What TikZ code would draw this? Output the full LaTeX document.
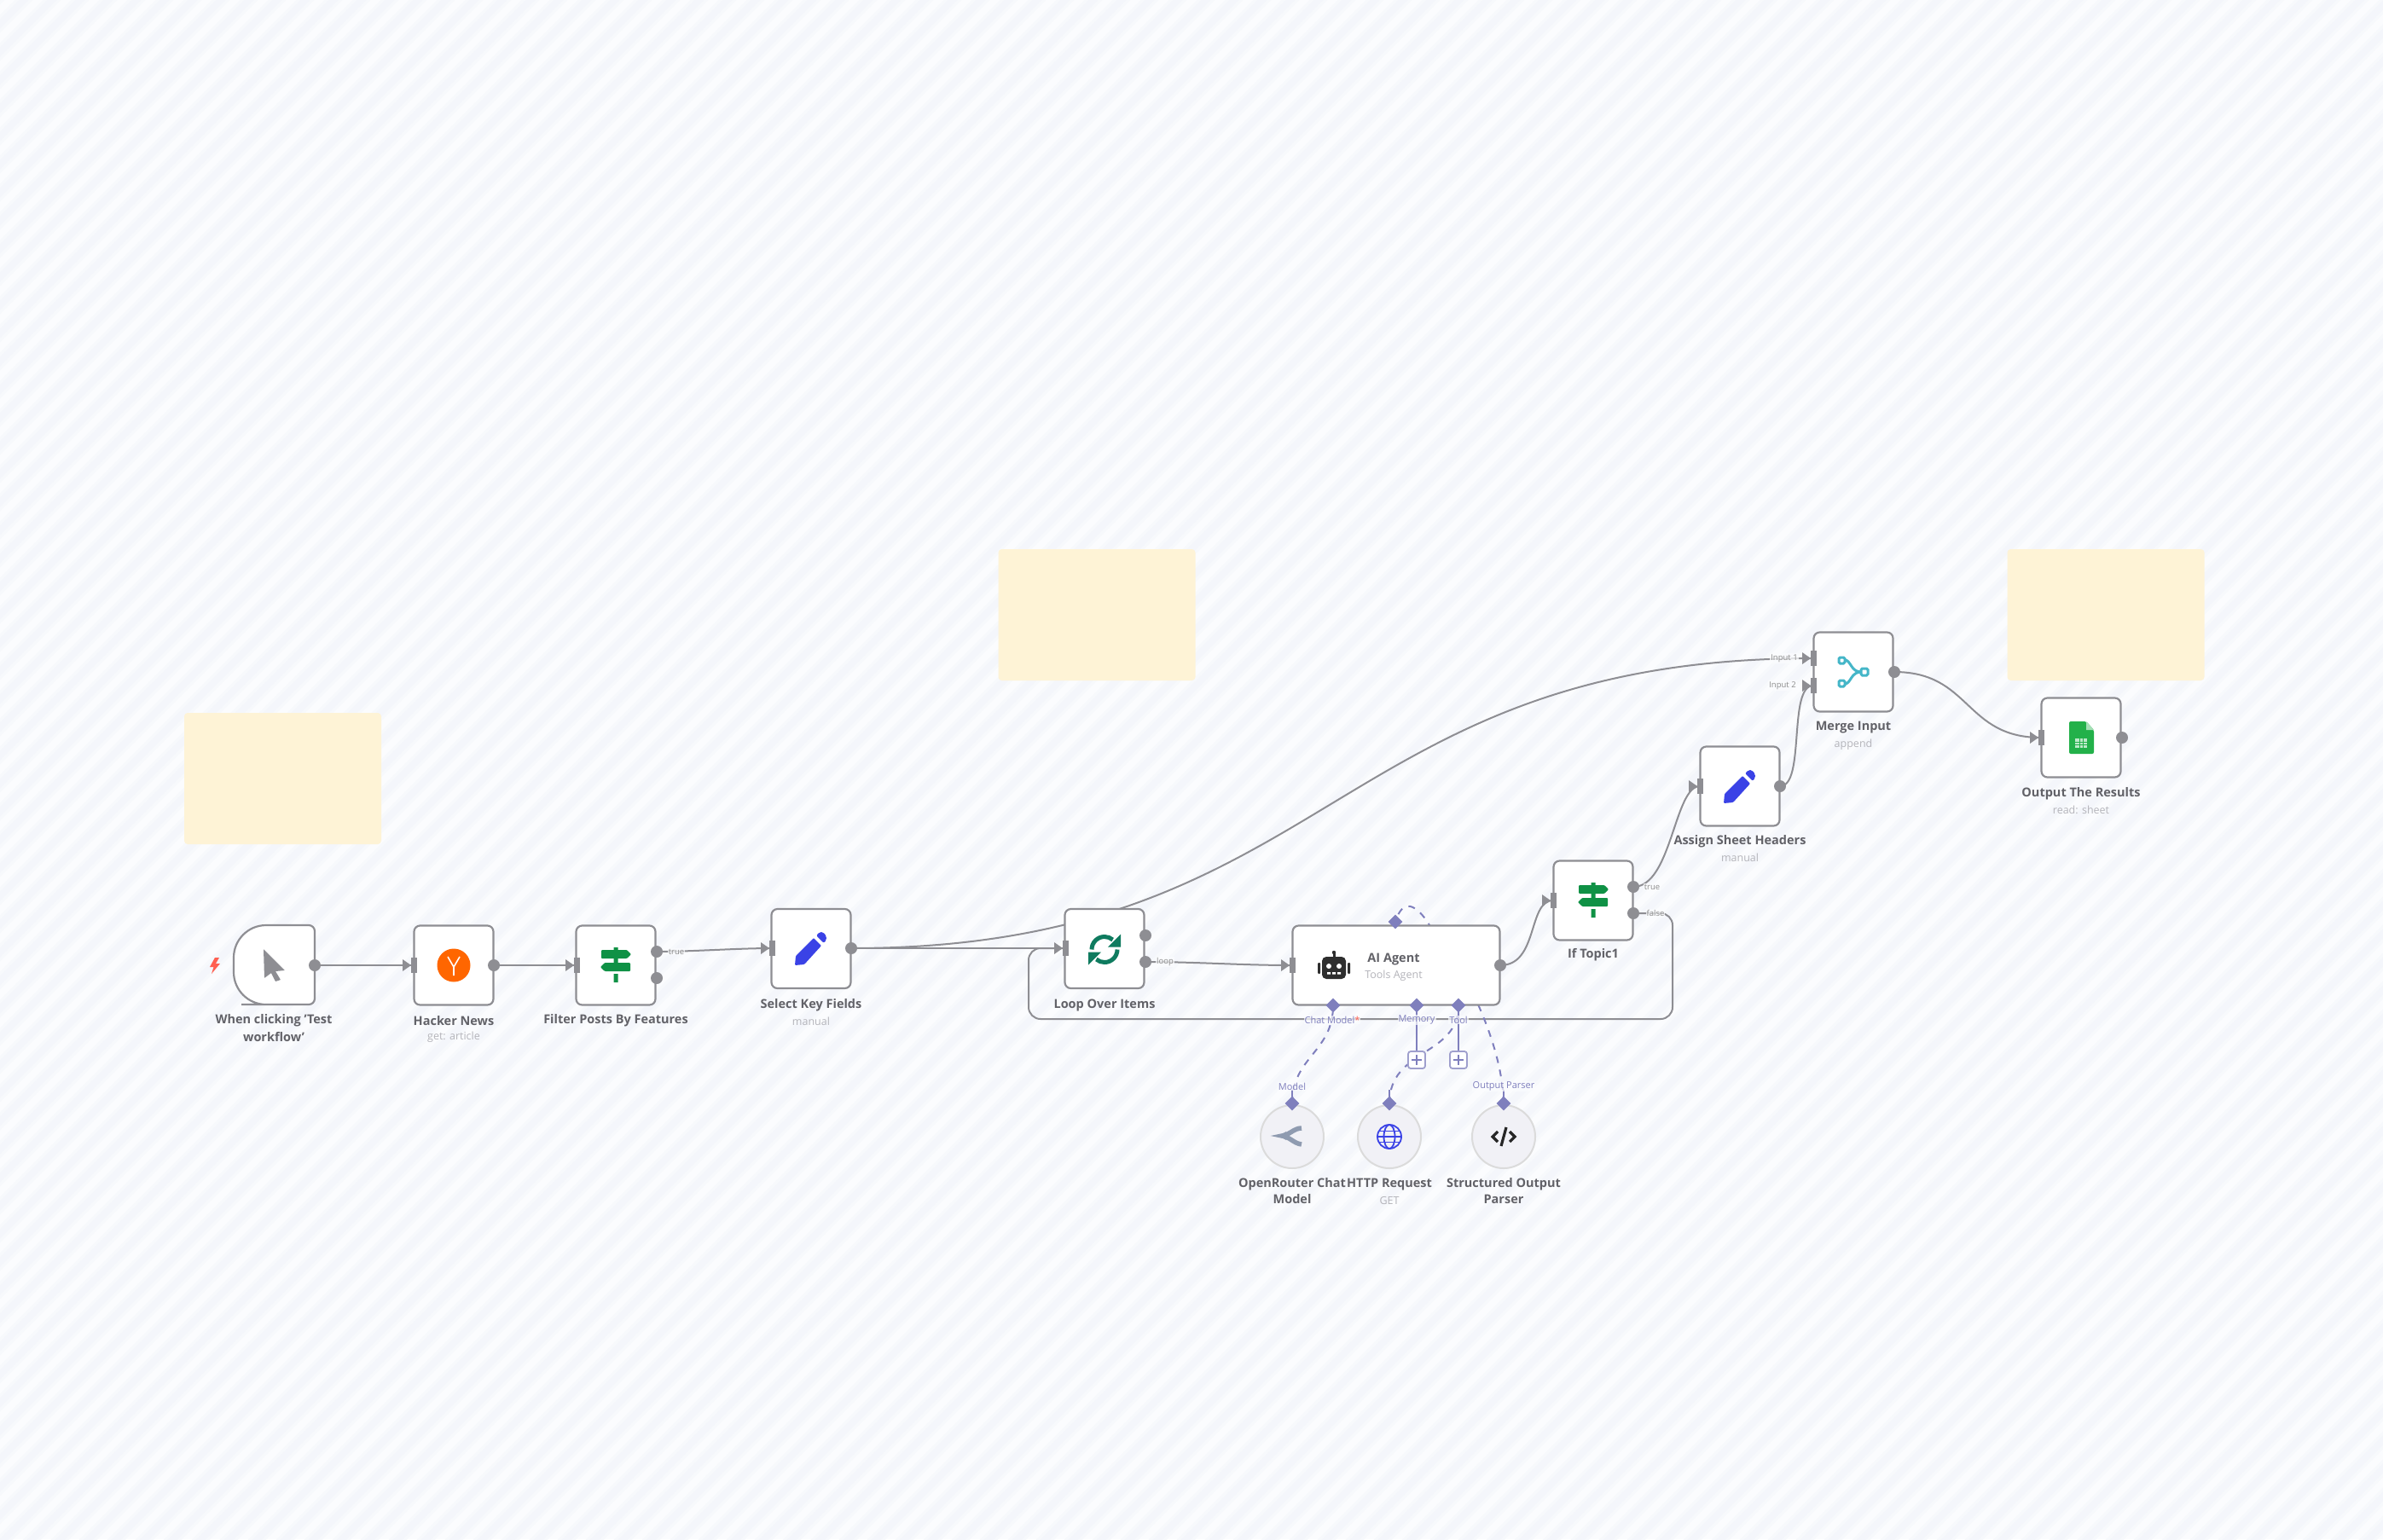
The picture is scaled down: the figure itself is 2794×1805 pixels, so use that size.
\documentclass[tikz,border=0pt]{standalone}
\usepackage{fontspec}
\setmainfont{Open Sans}
\usetikzlibrary{shapes.geometric,calc}
\pgfdeclarelayer{paper}
\pgfdeclarelayer{edges}
\pgfsetlayers{paper,edges,main}
\definecolor{bgbase}{HTML}{FBFCFE}
\definecolor{bgstripe}{HTML}{F4F6FB}
\definecolor{bgmid}{HTML}{F7F9FC}
\definecolor{sticky}{HTML}{FEF3D6}
\definecolor{edgegray}{HTML}{8E8E93}
\definecolor{aiblue}{HTML}{7F7FBD}
\definecolor{labeltext}{HTML}{626268}
\definecolor{subtext}{HTML}{B4B4BA}
\definecolor{penblue}{HTML}{3A42E6}
\definecolor{signgreen}{HTML}{0F9145}
\definecolor{loopgreen}{HTML}{0F7B5F}
\definecolor{mergeteal}{HTML}{45B6C8}
\definecolor{routergray}{HTML}{8F9BB0}
\definecolor{sheetgreen}{HTML}{23B14A}
\definecolor{ycolor}{HTML}{FF6600}
\definecolor{boltred}{HTML}{FF5F50}
\definecolor{circlefill}{HTML}{F1F1F6}
\tikzset{
  box/.style={draw=edgegray,fill=white,line width=2.2pt,rounded corners=7pt,minimum width=93pt,minimum height=93pt,inner sep=0pt},
  agentbox/.style={box,minimum width=243pt},
  subcircle/.style={circle,draw=black!14,fill=circlefill,line width=2pt,minimum size=74pt,inner sep=0pt},
  stickybox/.style={fill=sticky,rounded corners=4pt,minimum width=231pt,minimum height=154pt,inner sep=0pt},
  outdot/.style={circle,fill=edgegray,minimum size=14pt,inner sep=0pt},
  inbar/.style={rectangle,fill=edgegray,minimum width=7pt,minimum height=18pt,inner sep=0pt},
  aidia/.style={diamond,aspect=1,fill=aiblue,minimum size=17pt,inner sep=0pt},
  plusbox/.style={draw=aiblue!75,fill=white,line width=1.8pt,rounded corners=3pt,minimum size=20pt,inner sep=0pt},
  title/.style={font=\fontsize{14.5}{16}\selectfont\bfseries,text=labeltext,inner sep=0pt},
  subt/.style={font=\fontsize{12.5}{14}\selectfont,text=subtext,inner sep=0pt},
  tiny/.style={font=\fontsize{9.5}{10}\selectfont,text=black!45,inner sep=1pt,fill=bgbase,fill opacity=.75,text opacity=1},
  ailab/.style={font=\fontsize{11}{12}\selectfont,text=aiblue,inner sep=1pt,fill=bgbase,fill opacity=.7,text opacity=1},
  wire/.style={draw=edgegray,line width=2pt},
  aiwire/.style={draw=aiblue,line width=2pt,dash pattern=on 8pt off 8pt},
  aisolid/.style={draw=aiblue,line width=2pt}
}
\newcommand{\inport}[3]{\node[inbar] (#1) at (#2,#3) {}; \fill[edgegray] ($(#1.center)+(-3,0)$) -- ++(-10,-7) -- ++(0,14) -- cycle;}
\newcommand{\signicon}[2]{\begin{scope}[shift={(#1,#2)}]
  \fill[signgreen,rounded corners=1pt] (-17,-18) -- (13,-18) -- (18,-13) -- (13,-8) -- (-17,-8) -- cycle;
  \fill[signgreen,rounded corners=1pt] (-13,-3) -- (17,-3) -- (17,7) -- (-13,7) -- (-18,2) -- cycle;
  \fill[signgreen] (-2.5,-21) rectangle (2.5,-18) (-2.5,-8) rectangle (2.5,-3) (-2.5,10) rectangle (2.5,20);
\end{scope}}
\newcommand{\penicon}[2]{\begin{scope}[shift={(#1,#2)}]
  \fill[penblue,rounded corners=1pt] (-19,20) -- (-18,9) -- (3,-12) -- (12,-3) -- (-8,19) -- cycle;
  \fill[penblue,rounded corners=2pt] (6,-15) -- (10,-19) -- (14,-19) -- (18,-14) -- (18,-10) -- (15,-6) -- cycle;
\end{scope}}
\begin{document}
\begin{tikzpicture}[x=1pt,y=-1pt]
\useasboundingbox (0,0) rectangle (2794,1805);
\begin{pgfonlayer}{paper}
  \fill[bgbase] (0,0) rectangle (2794,1805);
  \begin{scope}
    \clip (0,0) rectangle (2794,1805);
    \foreach \s in {-1820,-1787,...,2800} {
      \draw[bgmid,line width=15pt] (\s,1815) -- (\s+1825,-10);
      \draw[bgstripe,line width=8pt] (\s,1815) -- (\s+1825,-10);
    }
  \end{scope}
\end{pgfonlayer}

% sticky notes
\node[stickybox] (noteA) at (331.5,913) {};
\node[stickybox] (noteB) at (1286,721) {};
\node[stickybox] (noteC) at (2469,721) {};

% main nodes
\draw[draw=edgegray,fill=white,line width=2.2pt,rounded corners=38pt] (321,1085) -- (274,1085) -- (274,1178) -- (321,1178) [rounded corners=7pt] -- (369,1178) -- (369,1085) -- cycle;
\node[box] (hn) at (532,1132) {};
\node[box] (filter) at (722,1132) {};
\node[box] (select) at (951,1112.5) {};
\node[box] (loop) at (1295,1112.5) {};
\node[agentbox] (agent) at (1637,1132) {};
\node[box] (iftopic) at (1868,1056) {};
\node[box] (assign) at (2040,922) {};
\node[box] (merge) at (2173,788) {};
\node[box] (output) at (2440,865) {};
\node[subcircle] (router) at (1515,1333) {};
\node[subcircle] (http) at (1629,1333) {};
\node[subcircle] (parser) at (1763,1333) {};

% ports
\node[outdot] (triggerout) at (369,1132) {};
\node[outdot] (hnout) at (579,1132) {};
\node[outdot] (filtertrue) at (770,1116) {};
\node[outdot] (filterfalse) at (770,1147) {};
\node[outdot] (selectout) at (998,1112) {};
\node[outdot] (loopdone) at (1343,1097) {};
\node[outdot] (looploop) at (1343,1128) {};
\node[outdot] (agentout) at (1759,1132) {};
\node[outdot] (iftrue) at (1915,1040) {};
\node[outdot] (iffalse) at (1915,1071) {};
\node[outdot] (assignout) at (2087,922) {};
\node[outdot] (mergeout) at (2221,788) {};
\node[outdot] (outputout) at (2488,865) {};
\inport{hnin}{485}{1132}
\inport{filterin}{676}{1132}
\inport{selectin}{905}{1112}
\inport{loopin}{1249}{1112}
\inport{agentin}{1515}{1132}
\inport{ifin}{1821}{1056}
\inport{assignin}{1993}{922}
\inport{mergeina}{2126}{772}
\inport{mergeinb}{2126}{804}
\inport{outputin}{2393}{865}
\node[aidia] (agentmodel) at (1563,1179) {};
\node[aidia] (agentmemory) at (1661,1179) {};
\node[aidia] (agenttool) at (1710,1179) {};
\node[aidia] (agenttop) at (1636,1081) {};
\node[aidia] (routertop) at (1515,1294) {};
\node[aidia] (httptop) at (1629,1294) {};
\node[aidia] (parsertop) at (1763,1294) {};
\node[plusbox] (plusmem) at (1661,1243) {};
\node[plusbox] (plustool) at (1710,1243) {};
\draw[aiblue,line width=1.8pt] (1655,1243) -- (1667,1243) (1661,1237) -- (1661,1249);
\draw[aiblue,line width=1.8pt] (1704,1243) -- (1716,1243) (1710,1237) -- (1710,1249);

% connectors
\begin{pgfonlayer}{edges}
  \draw[wire] (triggerout.center) -- (hnin.center);
  \draw[wire] (hnout.center) -- (filterin.center);
  \draw[wire] (filtertrue.center) .. controls +(40,0) and +(-40,0) .. (selectin.center);
  \draw[wire] (selectout.center) -- (loopin.center);
  \draw[wire] (selectout.center) .. controls +(564,0) and +(-564,0) .. (mergeina.center);
  \draw[wire] (looploop.center) .. controls +(60,0) and +(-60,0) .. (agentin.center);
  \draw[wire] (agentout.center) .. controls +(45,0) and +(-30,0) .. (ifin.center);
  \draw[wire] (iftrue.center) .. controls +(45,0) and +(-30,0) .. (assignin.center);
  \draw[wire] (assignout.center) .. controls +(30,0) and +(-30,0) .. (mergeinb.center);
  \draw[wire] (mergeout.center) .. controls +(90,0) and +(-90,0) .. (outputin.center);
  \draw[wire,rounded corners=14pt] (iffalse.center) -- (1961,1071) -- (1961,1195) -- (1206,1195) -- (1206,1112) -- (loopin.center);
  \draw[aiwire] (routertop.center) .. controls +(0,-55) and +(0,55) .. (agentmodel.center);
  \draw[aiwire] (httptop.center) .. controls +(0,-65) and +(0,60) .. (agenttool.center);
  \draw[aiwire] (parsertop.center) .. controls (1762,1250) and (1745,1205) .. (1733,1178) -- (1673,1080) .. controls (1660,1062) and (1645,1052) .. (agenttop.center);
  \draw[aisolid] (agentmemory.center) -- (plusmem.north);
  \draw[aisolid] (agenttool.center) -- (plustool.north);
  \draw[aisolid] (routertop.center) -- +(0,-16);
  \draw[aisolid] (parsertop.center) -- +(0,-16);
  \draw[aisolid] (httptop.center) -- +(0,-16);
\end{pgfonlayer}

% connector labels
\node[tiny] (ltruea) at (793,1116) {true};
\node[tiny] (lloop) at (1366,1128) {loop};
\node[tiny] (ltrueb) at (1937,1040) {true};
\node[tiny] (lfalse) at (1941,1071) {false};
\node[tiny] (linputa) at (2092,772) {Input 1};
\node[tiny] (linputb) at (2090,804) {Input 2};
\node[ailab] (lchat) at (1562,1196) {Chat Model\textcolor{boltred}{*}};
\node[ailab] (lmem) at (1661,1196) {Memory};
\node[ailab] (ltool) at (1710,1196) {Tool};
\node[ailab] (lmodel) at (1515,1274) {Model};
\node[ailab] (lparser) at (1763,1274) {Output Parser};

% titles
\node[title] (t1a) at (321,1197) {When clicking 'Test};
\node[title] (t1b) at (321,1216) {workflow'};
\node[title] (t2) at (532,1197) {Hacker News};
\node[subt] (s2) at (532,1216) {get: article};
\node[title] (t3) at (722,1197) {Filter Posts By Features};
\node[title] (t4) at (951,1179) {Select Key Fields};
\node[subt] (s4) at (951,1198) {manual};
\node[title] (t5) at (1295,1179) {Loop Over Items};
\node[title] (t6) at (1634,1125) {AI Agent};
\node[subt] (s6) at (1634,1144) {Tools Agent};
\node[title] (t7) at (1868,1120) {If Topic1};
\node[title] (t8) at (2040,987) {Assign Sheet Headers};
\node[subt] (s8) at (2040,1006) {manual};
\node[title] (t9) at (2173,853) {Merge Input};
\node[subt] (s9) at (2173,873) {append};
\node[title] (t10) at (2440,931) {Output The Results};
\node[subt] (s10) at (2440,950) {read: sheet};
\node[title] (t11a) at (1515,1389) {OpenRouter Chat};
\node[title] (t11b) at (1515,1406) {Model};
\node[title] (t12) at (1629,1389) {HTTP Request};
\node[subt] (s12) at (1629,1408) {GET};
\node[title] (t13a) at (1763,1389) {Structured Output};
\node[title] (t13b) at (1763,1406) {Parser};

% icons
\fill[edgegray,rounded corners=.6pt] (309,1113) -- (334,1138) -- (323,1139) -- (329,1149) -- (323,1151) -- (318,1141) -- (310,1147) -- cycle;
\fill[boltred] (252,1123) -- (246,1134) -- (250.5,1134) -- (248,1142) -- (258,1130) -- (253,1130) -- (257,1123) -- cycle;
\fill[ycolor] (532,1132) circle[radius=19.5];
\draw[white,line width=1.6pt] (525,1122) -- (532,1134) -- (539,1122) (532,1134) -- (532,1144);
\signicon{722}{1132}
\signicon{1868}{1056}
\penicon{951}{1112}
\penicon{2040}{922}
\begin{scope}[shift={(1295,1113.5)}]
  \draw[loopgreen,line width=5pt] (-15,0) arc[start angle=180,end angle=310,radius=15];
  \fill[loopgreen] (19,-18) -- (19,-3) -- (4,-3) -- cycle;
  \draw[loopgreen,line width=5pt] (15,0) arc[start angle=0,end angle=130,radius=15];
  \fill[loopgreen] (-19,18) -- (-19,3) -- (-4,3) -- cycle;
\end{scope}
\begin{scope}[shift={(1564,1133)}]
  \fill[black!82,rounded corners=5pt] (-14,-11) rectangle (14,15);
  \fill[black!82,rounded corners=1pt] (-19,-4) rectangle (-16,9) (16,-4) rectangle (19,9);
  \fill[black!82] (-1.5,-16) rectangle (1.5,-11);
  \fill[black!82] (0,-16) circle[radius=2.2];
  \fill[white] (-6,0) circle[radius=3] (6,0) circle[radius=3];
  \fill[white] (-8,7) rectangle (-4,9.5) (-2,7) rectangle (2,9.5) (4,7) rectangle (8,9.5);
\end{scope}
\begin{scope}[shift={(1515,1333)}]
  \draw[routergray,line width=5.5pt] (11,-10) .. controls (2,-10) and (-3,-2) .. (-12,-1) .. controls (-3,0) and (2,8) .. (11,9);
  \fill[routergray] (-16,-1) -- (-7,-6) -- (-7,4) -- cycle;
\end{scope}
\begin{scope}[shift={(1629,1333)},penblue,line width=1.8pt]
  \draw (0,0) circle[radius=14];
  \draw (0,0) ellipse[x radius=6.5,y radius=14];
  \draw (-14,0) -- (14,0) (-12.5,-6.5) -- (12.5,-6.5) (-12.5,6.5) -- (12.5,6.5);
\end{scope}
\begin{scope}[shift={(1763,1333)},black!85,line width=3.2pt]
  \draw (-7,-6) -- (-13,0) -- (-7,6);
  \draw (7,-6) -- (13,0) -- (7,6);
  \draw (3,-11) -- (-3,11);
\end{scope}
\begin{scope}[shift={(2173,788)},mergeteal,line width=3pt]
  \draw[rounded corners=1.5pt] (-17,-17) rectangle (-10,-10) (-17,10) rectangle (-10,17) (9,-4) rectangle (17,4);
  \draw (-10,-14) .. controls (-3,-14) and (-3,0) .. (9,0);
  \draw (-10,14) .. controls (-3,14) and (-3,0) .. (9,0);
\end{scope}
\begin{scope}[shift={(2440,865)}]
  \fill[sheetgreen,rounded corners=2pt] (-14,-19) -- (6,-19) -- (15,-9) -- (15,19) -- (-14,19) -- cycle;
  \fill[sheetgreen!40!white] (6,-19) -- (15,-9) -- (6,-9) -- cycle;
  \fill[sheetgreen!30!white] (-7,1) rectangle (7,12);
  \draw[sheetgreen,line width=1pt] (-2,1) -- (-2,12) (2.5,1) -- (2.5,12) (-7,5) -- (7,5) (-7,8.5) -- (7,8.5);
\end{scope}
\end{tikzpicture}
\end{document}
